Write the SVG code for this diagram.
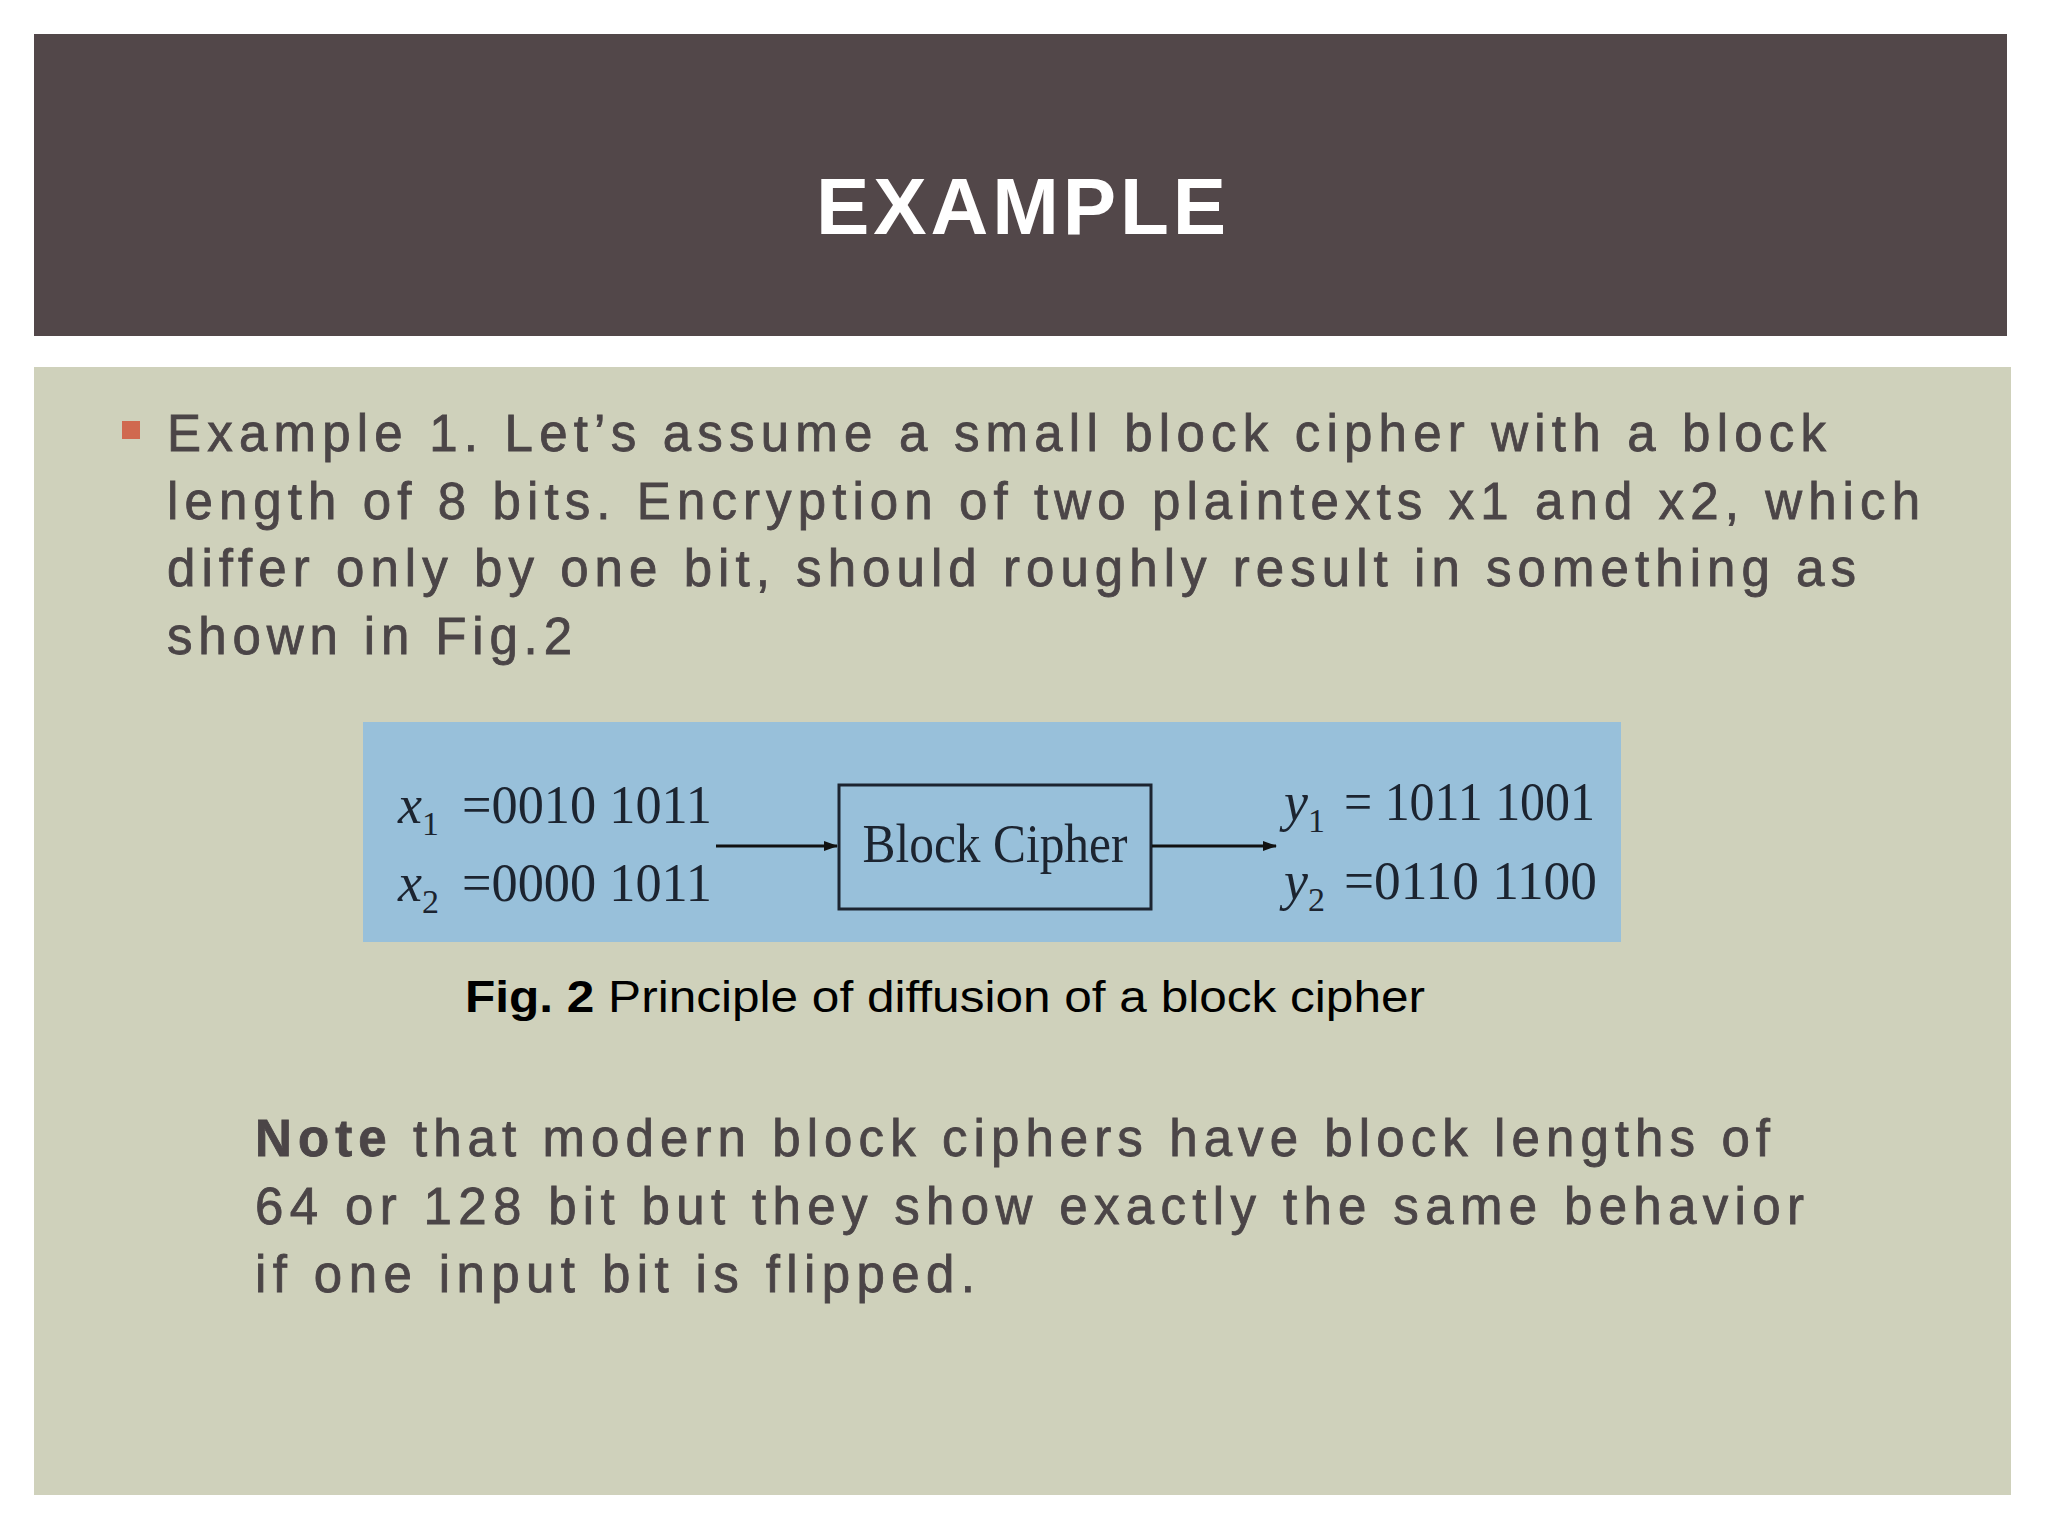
<svg xmlns="http://www.w3.org/2000/svg" width="2048" height="1536" viewBox="0 0 2048 1536">
<style>
.b{font-family:"Liberation Sans",Arial,sans-serif;font-size:51px;fill:#4b4547;stroke:#4b4547;stroke-width:0.8px}
.s{font-family:"Liberation Serif","Times New Roman",serif;font-size:54px;fill:#1c2430}
.c{font-family:"Liberation Sans",Arial,sans-serif;font-size:44px;fill:#000}
</style>
<defs><marker id="ah" markerWidth="14" markerHeight="10" refX="13" refY="5" orient="auto" markerUnits="userSpaceOnUse"><path d="M0,0 L14,5 L0,10 Z" fill="#111"/></marker></defs>
<rect width="2048" height="1536" fill="#fff"/>
<g id="header"><rect x="34" y="34" width="1973" height="302" fill="#524749"/>
<text x="1021" y="234" text-anchor="middle" font-family="Liberation Sans,Arial,sans-serif" font-size="80" font-weight="bold" fill="#fff" textLength="410" lengthAdjust="spacing">EXAMPLE</text></g>
<g id="body"><rect x="34" y="367" width="1977" height="1128" fill="#cfd1bb"/>
<rect x="122" y="421" width="18" height="18" fill="#d0694f"/>
<text class="b" x="167" y="451" textLength="1659" lengthAdjust="spacing">Example 1. Let’s assume a small block cipher with a block</text>
<text class="b" x="167" y="519" textLength="1753" lengthAdjust="spacing">length of 8 bits. Encryption of two plaintexts x1 and x2, which</text>
<text class="b" x="167" y="586" textLength="1689" lengthAdjust="spacing">differ only by one bit, should roughly result in something as</text>
<text class="b" x="167" y="654" textLength="405" lengthAdjust="spacing">shown in Fig.2</text>
<text class="b" x="255" y="1156" textLength="1515" lengthAdjust="spacing"><tspan font-weight="bold">Note</tspan> that modern block ciphers have block lengths of</text>
<text class="b" x="255" y="1224" textLength="1549" lengthAdjust="spacing">64 or 128 bit but they show exactly the same behavior</text>
<text class="b" x="255" y="1292" textLength="720" lengthAdjust="spacing">if one input bit is flipped.</text>
</g>
<g id="figure"><rect x="363" y="722" width="1258" height="220" fill="#98c0da"/>
<text class="s" x="398" y="823"><tspan font-style="italic">x</tspan><tspan font-size="34" dy="12">1</tspan><tspan dy="-12" x="462" textLength="250" lengthAdjust="spacingAndGlyphs">=0010 1011</tspan></text>
<text class="s" x="398" y="901"><tspan font-style="italic">x</tspan><tspan font-size="34" dy="12">2</tspan><tspan dy="-12" x="462" textLength="250" lengthAdjust="spacingAndGlyphs">=0000 1011</tspan></text>
<text class="s" x="1284" y="820"><tspan font-style="italic">y</tspan><tspan font-size="34" dy="12">1</tspan><tspan dy="-12" x="1344" textLength="251" lengthAdjust="spacingAndGlyphs">= 1011 1001</tspan></text>
<text class="s" x="1284" y="899"><tspan font-style="italic">y</tspan><tspan font-size="34" dy="12">2</tspan><tspan dy="-12" x="1344" textLength="253" lengthAdjust="spacingAndGlyphs">=0110 1100</tspan></text>
</g>
<g id="cipher"><rect x="839" y="785" width="312" height="124" fill="none" stroke="#1c2430" stroke-width="3"/>
<text class="s" x="995" y="862" text-anchor="middle" textLength="265" lengthAdjust="spacingAndGlyphs">Block Cipher</text></g>
<g id="connectors" stroke="#111" stroke-width="3">
<line x1="716" y1="846" x2="837" y2="846" marker-end="url(#ah)"/>
<line x1="1152" y1="846" x2="1276" y2="846" marker-end="url(#ah)"/></g>
<g id="caption"><text class="c" x="465" y="1012" textLength="960" lengthAdjust="spacingAndGlyphs"><tspan font-weight="bold">Fig. 2</tspan> Principle of diffusion of a block cipher</text></g>
</svg>
